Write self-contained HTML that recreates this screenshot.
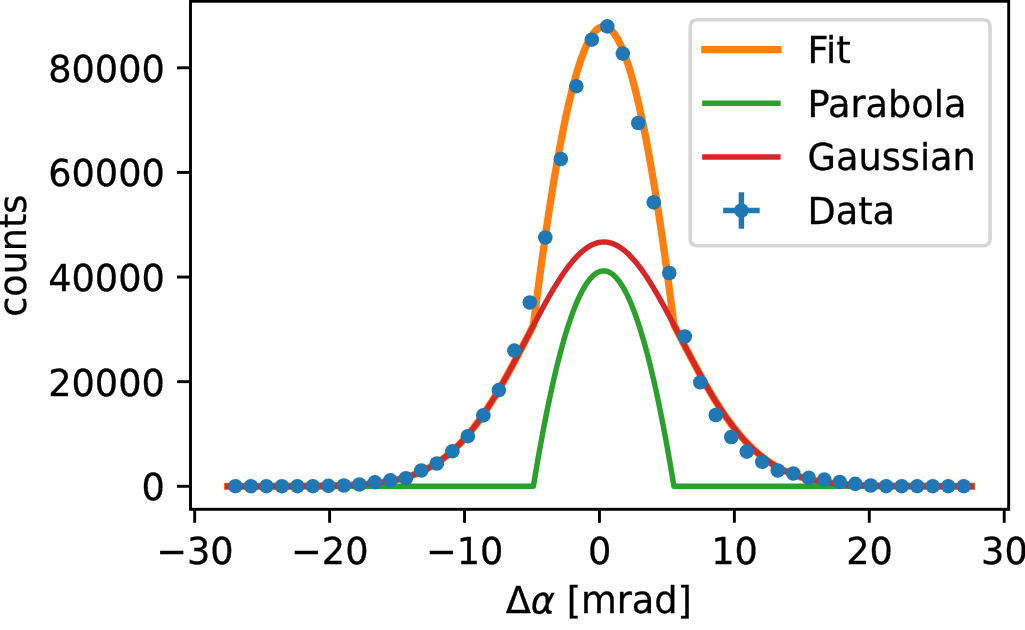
<!DOCTYPE html>
<html lang="en"><head><meta charset="utf-8"><title>Fit plot</title>
<style>html,body{margin:0;padding:0;background:#fff;overflow:hidden}svg{display:block}text{font-family:"DejaVu Sans","Liberation Sans",sans-serif;font-size:36.7px;fill:#000;stroke:#000;stroke-width:0.3px;stroke-linejoin:round}</style></head><body>
<svg width="1025" height="630" viewBox="0 0 1025 630">
<rect width="1025" height="630" fill="#fff"/>
<g fill="none" stroke-linecap="square" stroke-linejoin="round">
<path d="M227.60 486.30 L228.84 486.30 L230.08 486.30 L231.33 486.30 L232.57 486.30 L233.81 486.30 L235.05 486.30 L236.29 486.30 L237.54 486.30 L238.78 486.30 L240.02 486.30 L241.26 486.30 L242.50 486.30 L243.75 486.30 L244.99 486.30 L246.23 486.29 L247.47 486.29 L248.72 486.29 L249.96 486.29 L251.20 486.29 L252.44 486.29 L253.68 486.29 L254.93 486.29 L256.17 486.29 L257.41 486.29 L258.65 486.29 L259.89 486.29 L261.14 486.29 L262.38 486.29 L263.62 486.29 L264.86 486.28 L266.10 486.28 L267.35 486.28 L268.59 486.28 L269.83 486.28 L271.07 486.28 L272.31 486.28 L273.56 486.28 L274.80 486.27 L276.04 486.27 L277.28 486.27 L278.52 486.27 L279.77 486.27 L281.01 486.26 L282.25 486.26 L283.49 486.26 L284.74 486.25 L285.98 486.25 L287.22 486.25 L288.46 486.24 L289.70 486.24 L290.95 486.24 L292.19 486.23 L293.43 486.23 L294.67 486.22 L295.91 486.22 L297.16 486.21 L298.40 486.21 L299.64 486.20 L300.88 486.19 L302.12 486.19 L303.37 486.18 L304.61 486.17 L305.85 486.16 L307.09 486.15 L308.33 486.14 L309.58 486.14 L310.82 486.12 L312.06 486.11 L313.30 486.10 L314.54 486.09 L315.79 486.08 L317.03 486.06 L318.27 486.05 L319.51 486.03 L320.76 486.02 L322.00 486.00 L323.24 485.98 L324.48 485.96 L325.72 485.94 L326.97 485.92 L328.21 485.90 L329.45 485.87 L330.69 485.85 L331.93 485.82 L333.18 485.79 L334.42 485.76 L335.66 485.73 L336.90 485.70 L338.14 485.66 L339.39 485.63 L340.63 485.59 L341.87 485.55 L343.11 485.51 L344.35 485.46 L345.60 485.42 L346.84 485.37 L348.08 485.32 L349.32 485.26 L350.56 485.21 L351.81 485.15 L353.05 485.08 L354.29 485.02 L355.53 484.95 L356.78 484.88 L358.02 484.80 L359.26 484.72 L360.50 484.64 L361.74 484.55 L362.99 484.46 L364.23 484.37 L365.47 484.27 L366.71 484.17 L367.95 484.06 L369.20 483.94 L370.44 483.83 L371.68 483.70 L372.92 483.57 L374.16 483.44 L375.41 483.30 L376.65 483.15 L377.89 483.00 L379.13 482.84 L380.37 482.67 L381.62 482.50 L382.86 482.32 L384.10 482.13 L385.34 481.93 L386.58 481.73 L387.83 481.52 L389.07 481.30 L390.31 481.07 L391.55 480.83 L392.80 480.58 L394.04 480.32 L395.28 480.06 L396.52 479.78 L397.76 479.49 L399.01 479.19 L400.25 478.88 L401.49 478.56 L402.73 478.22 L403.97 477.88 L405.22 477.52 L406.46 477.15 L407.70 476.76 L408.94 476.36 L410.18 475.95 L411.43 475.52 L412.67 475.08 L413.91 474.62 L415.15 474.15 L416.39 473.66 L417.64 473.16 L418.88 472.64 L420.12 472.10 L421.36 471.55 L422.61 470.97 L423.85 470.38 L425.09 469.77 L426.33 469.14 L427.57 468.50 L428.82 467.83 L430.06 467.14 L431.30 466.43 L432.54 465.71 L433.78 464.96 L435.03 464.19 L436.27 463.39 L437.51 462.58 L438.75 461.74 L439.99 460.88 L441.24 459.99 L442.48 459.09 L443.72 458.16 L444.96 457.20 L446.20 456.22 L447.45 455.21 L448.69 454.18 L449.93 453.13 L451.17 452.04 L452.41 450.93 L453.66 449.80 L454.90 448.64 L456.14 447.45 L457.38 446.23 L458.63 444.99 L459.87 443.72 L461.11 442.42 L462.35 441.10 L463.59 439.75 L464.84 438.36 L466.08 436.95 L467.32 435.52 L468.56 434.05 L469.80 432.56 L471.05 431.03 L472.29 429.48 L473.53 427.90 L474.77 426.30 L476.01 424.66 L477.26 422.99 L478.50 421.30 L479.74 419.58 L480.98 417.83 L482.22 416.06 L483.47 414.26 L484.71 412.43 L485.95 410.57 L487.19 408.69 L488.43 406.78 L489.68 404.84 L490.92 402.88 L492.16 400.90 L493.40 398.89 L494.65 396.86 L495.89 394.80 L497.13 392.72 L498.37 390.62 L499.61 388.49 L500.86 386.35 L502.10 384.18 L503.34 382.00 L504.58 379.79 L505.82 377.57 L507.07 375.33 L508.31 373.07 L509.55 370.80 L510.79 368.51 L512.03 366.21 L513.28 363.89 L514.52 361.57 L515.76 359.23 L517.00 356.88 L518.24 354.52 L519.49 352.16 L520.73 349.78 L521.97 347.41 L523.21 345.02 L524.45 342.64 L525.70 340.25 L526.94 337.86 L528.18 335.47 L529.42 333.08 L530.67 330.69 L531.91 328.31 L533.15 325.93 L533.40 325.46 L534.39 317.53 L535.63 307.72 L536.88 298.06 L538.12 288.55 L539.36 279.18 L540.60 269.96 L541.84 260.89 L543.09 251.97 L544.33 243.20 L545.57 234.58 L546.81 226.12 L548.05 217.82 L549.30 209.68 L550.54 201.69 L551.78 193.87 L553.02 186.20 L554.26 178.71 L555.51 171.37 L556.75 164.20 L557.99 157.21 L559.23 150.37 L560.47 143.71 L561.72 137.23 L562.96 130.91 L564.20 124.77 L565.44 118.80 L566.69 113.02 L567.93 107.41 L569.17 101.98 L570.41 96.72 L571.65 91.66 L572.90 86.77 L574.14 82.07 L575.38 77.55 L576.62 73.22 L577.86 69.08 L579.11 65.12 L580.35 61.35 L581.59 57.77 L582.83 54.39 L584.07 51.19 L585.32 48.19 L586.56 45.38 L587.80 42.76 L589.04 40.34 L590.28 38.11 L591.53 36.08 L592.77 34.24 L594.01 32.60 L595.25 31.16 L596.49 29.91 L597.74 28.86 L598.98 28.01 L600.22 27.35 L601.46 26.90 L602.71 26.64 L603.95 26.58 L605.19 26.72 L606.43 27.06 L607.67 27.59 L608.92 28.33 L610.16 29.26 L611.40 30.39 L612.64 31.71 L613.88 33.24 L615.13 34.95 L616.37 36.87 L617.61 38.98 L618.85 41.29 L620.09 43.79 L621.34 46.49 L622.58 49.38 L623.82 52.46 L625.06 55.73 L626.30 59.20 L627.55 62.85 L628.79 66.70 L630.03 70.73 L631.27 74.95 L632.51 79.36 L633.76 83.95 L635.00 88.73 L636.24 93.69 L637.48 98.84 L638.73 104.16 L639.97 109.67 L641.21 115.35 L642.45 121.22 L643.69 127.26 L644.94 133.47 L646.18 139.86 L647.42 146.42 L648.66 153.15 L649.90 160.06 L651.15 167.13 L652.39 174.37 L653.63 181.77 L654.87 189.34 L656.11 197.08 L657.36 204.97 L658.60 213.03 L659.84 221.24 L661.08 229.62 L662.32 238.14 L663.57 246.83 L664.81 255.66 L666.05 264.65 L667.29 273.79 L668.53 283.08 L669.78 292.52 L671.02 302.10 L672.26 311.83 L673.50 321.70 L673.90 324.88 L674.75 326.50 L675.99 328.88 L677.23 331.26 L678.47 333.65 L679.71 336.03 L680.96 338.42 L682.20 340.81 L683.44 343.20 L684.68 345.59 L685.92 347.97 L687.17 350.35 L688.41 352.72 L689.65 355.08 L690.89 357.44 L692.13 359.78 L693.38 362.12 L694.62 364.44 L695.86 366.76 L697.10 369.06 L698.34 371.34 L699.59 373.61 L700.83 375.86 L702.07 378.10 L703.31 380.32 L704.55 382.52 L705.80 384.70 L707.04 386.86 L708.28 389.00 L709.52 391.12 L710.77 393.22 L712.01 395.29 L713.25 397.34 L714.49 399.37 L715.73 401.37 L716.98 403.35 L718.22 405.31 L719.46 407.23 L720.70 409.14 L721.94 411.01 L723.19 412.86 L724.43 414.69 L725.67 416.48 L726.91 418.25 L728.15 419.99 L729.40 421.71 L730.64 423.39 L731.88 425.05 L733.12 426.68 L734.36 428.28 L735.61 429.85 L736.85 431.40 L738.09 432.91 L739.33 434.40 L740.57 435.86 L741.82 437.29 L743.06 438.69 L744.30 440.07 L745.54 441.42 L746.79 442.73 L748.03 444.03 L749.27 445.29 L750.51 446.53 L751.75 447.73 L753.00 448.92 L754.24 450.07 L755.48 451.20 L756.72 452.30 L757.96 453.38 L759.21 454.43 L760.45 455.45 L761.69 456.45 L762.93 457.43 L764.17 458.38 L765.42 459.30 L766.66 460.21 L767.90 461.08 L769.14 461.94 L770.38 462.77 L771.63 463.58 L772.87 464.37 L774.11 465.14 L775.35 465.88 L776.59 466.60 L777.84 467.31 L779.08 467.99 L780.32 468.65 L781.56 469.29 L782.81 469.92 L784.05 470.52 L785.29 471.11 L786.53 471.68 L787.77 472.23 L789.02 472.76 L790.26 473.28 L791.50 473.78 L792.74 474.26 L793.98 474.73 L795.23 475.19 L796.47 475.62 L797.71 476.05 L798.95 476.46 L800.19 476.85 L801.44 477.24 L802.68 477.60 L803.92 477.96 L805.16 478.30 L806.40 478.63 L807.65 478.95 L808.89 479.26 L810.13 479.56 L811.37 479.85 L812.62 480.12 L813.86 480.39 L815.10 480.64 L816.34 480.89 L817.58 481.12 L818.83 481.35 L820.07 481.57 L821.31 481.78 L822.55 481.98 L823.79 482.18 L825.04 482.36 L826.28 482.54 L827.52 482.71 L828.76 482.88 L830.00 483.03 L831.25 483.19 L832.49 483.33 L833.73 483.47 L834.97 483.60 L836.21 483.73 L837.46 483.85 L838.70 483.97 L839.94 484.08 L841.18 484.19 L842.42 484.29 L843.67 484.39 L844.91 484.49 L846.15 484.57 L847.39 484.66 L848.64 484.74 L849.88 484.82 L851.12 484.89 L852.36 484.97 L853.60 485.03 L854.85 485.10 L856.09 485.16 L857.33 485.22 L858.57 485.28 L859.81 485.33 L861.06 485.38 L862.30 485.43 L863.54 485.47 L864.78 485.52 L866.02 485.56 L867.27 485.60 L868.51 485.64 L869.75 485.67 L870.99 485.71 L872.23 485.74 L873.48 485.77 L874.72 485.80 L875.96 485.83 L877.20 485.85 L878.44 485.88 L879.69 485.90 L880.93 485.92 L882.17 485.95 L883.41 485.97 L884.66 485.98 L885.90 486.00 L887.14 486.02 L888.38 486.04 L889.62 486.05 L890.87 486.07 L892.11 486.08 L893.35 486.09 L894.59 486.10 L895.83 486.12 L897.08 486.13 L898.32 486.14 L899.56 486.15 L900.80 486.16 L902.04 486.17 L903.29 486.17 L904.53 486.18 L905.77 486.19 L907.01 486.20 L908.25 486.20 L909.50 486.21 L910.74 486.21 L911.98 486.22 L913.22 486.22 L914.46 486.23 L915.71 486.23 L916.95 486.24 L918.19 486.24 L919.43 486.25 L920.68 486.25 L921.92 486.25 L923.16 486.26 L924.40 486.26 L925.64 486.26 L926.89 486.26 L928.13 486.27 L929.37 486.27 L930.61 486.27 L931.85 486.27 L933.10 486.27 L934.34 486.28 L935.58 486.28 L936.82 486.28 L938.06 486.28 L939.31 486.28 L940.55 486.28 L941.79 486.28 L943.03 486.29 L944.27 486.29 L945.52 486.29 L946.76 486.29 L948.00 486.29 L949.24 486.29 L950.48 486.29 L951.73 486.29 L952.97 486.29 L954.21 486.29 L955.45 486.29 L956.70 486.29 L957.94 486.29 L959.18 486.29 L960.42 486.29 L961.66 486.30 L962.91 486.30 L964.15 486.30 L965.39 486.30 L966.63 486.30 L967.87 486.30 L969.12 486.30 L970.36 486.30 L971.60 486.30" stroke="#ff7f0e" stroke-width="7.30"/>
<path d="M227.60 486.30 L228.84 486.30 L230.08 486.30 L231.33 486.30 L232.57 486.30 L233.81 486.30 L235.05 486.30 L236.29 486.30 L237.54 486.30 L238.78 486.30 L240.02 486.30 L241.26 486.30 L242.50 486.30 L243.75 486.30 L244.99 486.30 L246.23 486.30 L247.47 486.30 L248.72 486.30 L249.96 486.30 L251.20 486.30 L252.44 486.30 L253.68 486.30 L254.93 486.30 L256.17 486.30 L257.41 486.30 L258.65 486.30 L259.89 486.30 L261.14 486.30 L262.38 486.30 L263.62 486.30 L264.86 486.30 L266.10 486.30 L267.35 486.30 L268.59 486.30 L269.83 486.30 L271.07 486.30 L272.31 486.30 L273.56 486.30 L274.80 486.30 L276.04 486.30 L277.28 486.30 L278.52 486.30 L279.77 486.30 L281.01 486.30 L282.25 486.30 L283.49 486.30 L284.74 486.30 L285.98 486.30 L287.22 486.30 L288.46 486.30 L289.70 486.30 L290.95 486.30 L292.19 486.30 L293.43 486.30 L294.67 486.30 L295.91 486.30 L297.16 486.30 L298.40 486.30 L299.64 486.30 L300.88 486.30 L302.12 486.30 L303.37 486.30 L304.61 486.30 L305.85 486.30 L307.09 486.30 L308.33 486.30 L309.58 486.30 L310.82 486.30 L312.06 486.30 L313.30 486.30 L314.54 486.30 L315.79 486.30 L317.03 486.30 L318.27 486.30 L319.51 486.30 L320.76 486.30 L322.00 486.30 L323.24 486.30 L324.48 486.30 L325.72 486.30 L326.97 486.30 L328.21 486.30 L329.45 486.30 L330.69 486.30 L331.93 486.30 L333.18 486.30 L334.42 486.30 L335.66 486.30 L336.90 486.30 L338.14 486.30 L339.39 486.30 L340.63 486.30 L341.87 486.30 L343.11 486.30 L344.35 486.30 L345.60 486.30 L346.84 486.30 L348.08 486.30 L349.32 486.30 L350.56 486.30 L351.81 486.30 L353.05 486.30 L354.29 486.30 L355.53 486.30 L356.78 486.30 L358.02 486.30 L359.26 486.30 L360.50 486.30 L361.74 486.30 L362.99 486.30 L364.23 486.30 L365.47 486.30 L366.71 486.30 L367.95 486.30 L369.20 486.30 L370.44 486.30 L371.68 486.30 L372.92 486.30 L374.16 486.30 L375.41 486.30 L376.65 486.30 L377.89 486.30 L379.13 486.30 L380.37 486.30 L381.62 486.30 L382.86 486.30 L384.10 486.30 L385.34 486.30 L386.58 486.30 L387.83 486.30 L389.07 486.30 L390.31 486.30 L391.55 486.30 L392.80 486.30 L394.04 486.30 L395.28 486.30 L396.52 486.30 L397.76 486.30 L399.01 486.30 L400.25 486.30 L401.49 486.30 L402.73 486.30 L403.97 486.30 L405.22 486.30 L406.46 486.30 L407.70 486.30 L408.94 486.30 L410.18 486.30 L411.43 486.30 L412.67 486.30 L413.91 486.30 L415.15 486.30 L416.39 486.30 L417.64 486.30 L418.88 486.30 L420.12 486.30 L421.36 486.30 L422.61 486.30 L423.85 486.30 L425.09 486.30 L426.33 486.30 L427.57 486.30 L428.82 486.30 L430.06 486.30 L431.30 486.30 L432.54 486.30 L433.78 486.30 L435.03 486.30 L436.27 486.30 L437.51 486.30 L438.75 486.30 L439.99 486.30 L441.24 486.30 L442.48 486.30 L443.72 486.30 L444.96 486.30 L446.20 486.30 L447.45 486.30 L448.69 486.30 L449.93 486.30 L451.17 486.30 L452.41 486.30 L453.66 486.30 L454.90 486.30 L456.14 486.30 L457.38 486.30 L458.63 486.30 L459.87 486.30 L461.11 486.30 L462.35 486.30 L463.59 486.30 L464.84 486.30 L466.08 486.30 L467.32 486.30 L468.56 486.30 L469.80 486.30 L471.05 486.30 L472.29 486.30 L473.53 486.30 L474.77 486.30 L476.01 486.30 L477.26 486.30 L478.50 486.30 L479.74 486.30 L480.98 486.30 L482.22 486.30 L483.47 486.30 L484.71 486.30 L485.95 486.30 L487.19 486.30 L488.43 486.30 L489.68 486.30 L490.92 486.30 L492.16 486.30 L493.40 486.30 L494.65 486.30 L495.89 486.30 L497.13 486.30 L498.37 486.30 L499.61 486.30 L500.86 486.30 L502.10 486.30 L503.34 486.30 L504.58 486.30 L505.82 486.30 L507.07 486.30 L508.31 486.30 L509.55 486.30 L510.79 486.30 L512.03 486.30 L513.28 486.30 L514.52 486.30 L515.76 486.30 L517.00 486.30 L518.24 486.30 L519.49 486.30 L520.73 486.30 L521.97 486.30 L523.21 486.30 L524.45 486.30 L525.70 486.30 L526.94 486.30 L528.18 486.30 L529.42 486.30 L530.67 486.30 L531.91 486.30 L533.15 486.30 L533.40 486.30 L534.39 480.26 L535.63 472.82 L536.88 465.51 L538.12 458.34 L539.36 451.30 L540.60 444.40 L541.84 437.63 L543.09 430.99 L544.33 424.49 L545.57 418.13 L546.81 411.90 L548.05 405.80 L549.30 399.84 L550.54 394.01 L551.78 388.32 L553.02 382.76 L554.26 377.34 L555.51 372.05 L556.75 366.90 L557.99 361.88 L559.23 357.00 L560.47 352.25 L561.72 347.63 L562.96 343.15 L564.20 338.81 L565.44 334.60 L566.69 330.52 L567.93 326.58 L569.17 322.78 L570.41 319.10 L571.65 315.57 L572.90 312.16 L574.14 308.90 L575.38 305.76 L576.62 302.77 L577.86 299.90 L579.11 297.17 L580.35 294.58 L581.59 292.12 L582.83 289.80 L584.07 287.61 L585.32 285.55 L586.56 283.63 L587.80 281.84 L589.04 280.19 L590.28 278.67 L591.53 277.29 L592.77 276.05 L594.01 274.93 L595.25 273.96 L596.49 273.11 L597.74 272.40 L598.98 271.83 L600.22 271.39 L601.46 271.09 L602.71 270.92 L603.95 270.88 L605.19 270.98 L606.43 271.21 L607.67 271.58 L608.92 272.09 L610.16 272.73 L611.40 273.50 L612.64 274.41 L613.88 275.45 L615.13 276.63 L616.37 277.94 L617.61 279.38 L618.85 280.97 L620.09 282.68 L621.34 284.53 L622.58 286.52 L623.82 288.64 L625.06 290.89 L626.30 293.28 L627.55 295.80 L628.79 298.46 L630.03 301.26 L631.27 304.18 L632.51 307.25 L633.76 310.44 L635.00 313.78 L636.24 317.24 L637.48 320.84 L638.73 324.58 L639.97 328.45 L641.21 332.46 L642.45 336.60 L643.69 340.87 L644.94 345.28 L646.18 349.83 L647.42 354.50 L648.66 359.32 L649.90 364.27 L651.15 369.35 L652.39 374.57 L653.63 379.92 L654.87 385.41 L656.11 391.03 L657.36 396.78 L658.60 402.67 L659.84 408.70 L661.08 414.86 L662.32 421.16 L663.57 427.59 L664.81 434.15 L666.05 440.85 L667.29 447.68 L668.53 454.65 L669.78 461.76 L671.02 468.99 L672.26 476.37 L673.50 483.87 L673.90 486.30 L674.75 486.30 L675.99 486.30 L677.23 486.30 L678.47 486.30 L679.71 486.30 L680.96 486.30 L682.20 486.30 L683.44 486.30 L684.68 486.30 L685.92 486.30 L687.17 486.30 L688.41 486.30 L689.65 486.30 L690.89 486.30 L692.13 486.30 L693.38 486.30 L694.62 486.30 L695.86 486.30 L697.10 486.30 L698.34 486.30 L699.59 486.30 L700.83 486.30 L702.07 486.30 L703.31 486.30 L704.55 486.30 L705.80 486.30 L707.04 486.30 L708.28 486.30 L709.52 486.30 L710.77 486.30 L712.01 486.30 L713.25 486.30 L714.49 486.30 L715.73 486.30 L716.98 486.30 L718.22 486.30 L719.46 486.30 L720.70 486.30 L721.94 486.30 L723.19 486.30 L724.43 486.30 L725.67 486.30 L726.91 486.30 L728.15 486.30 L729.40 486.30 L730.64 486.30 L731.88 486.30 L733.12 486.30 L734.36 486.30 L735.61 486.30 L736.85 486.30 L738.09 486.30 L739.33 486.30 L740.57 486.30 L741.82 486.30 L743.06 486.30 L744.30 486.30 L745.54 486.30 L746.79 486.30 L748.03 486.30 L749.27 486.30 L750.51 486.30 L751.75 486.30 L753.00 486.30 L754.24 486.30 L755.48 486.30 L756.72 486.30 L757.96 486.30 L759.21 486.30 L760.45 486.30 L761.69 486.30 L762.93 486.30 L764.17 486.30 L765.42 486.30 L766.66 486.30 L767.90 486.30 L769.14 486.30 L770.38 486.30 L771.63 486.30 L772.87 486.30 L774.11 486.30 L775.35 486.30 L776.59 486.30 L777.84 486.30 L779.08 486.30 L780.32 486.30 L781.56 486.30 L782.81 486.30 L784.05 486.30 L785.29 486.30 L786.53 486.30 L787.77 486.30 L789.02 486.30 L790.26 486.30 L791.50 486.30 L792.74 486.30 L793.98 486.30 L795.23 486.30 L796.47 486.30 L797.71 486.30 L798.95 486.30 L800.19 486.30 L801.44 486.30 L802.68 486.30 L803.92 486.30 L805.16 486.30 L806.40 486.30 L807.65 486.30 L808.89 486.30 L810.13 486.30 L811.37 486.30 L812.62 486.30 L813.86 486.30 L815.10 486.30 L816.34 486.30 L817.58 486.30 L818.83 486.30 L820.07 486.30 L821.31 486.30 L822.55 486.30 L823.79 486.30 L825.04 486.30 L826.28 486.30 L827.52 486.30 L828.76 486.30 L830.00 486.30 L831.25 486.30 L832.49 486.30 L833.73 486.30 L834.97 486.30 L836.21 486.30 L837.46 486.30 L838.70 486.30 L839.94 486.30 L841.18 486.30 L842.42 486.30 L843.67 486.30 L844.91 486.30 L846.15 486.30 L847.39 486.30 L848.64 486.30 L849.88 486.30 L851.12 486.30 L852.36 486.30 L853.60 486.30 L854.85 486.30 L856.09 486.30 L857.33 486.30 L858.57 486.30 L859.81 486.30 L861.06 486.30 L862.30 486.30 L863.54 486.30 L864.78 486.30 L866.02 486.30 L867.27 486.30 L868.51 486.30 L869.75 486.30 L870.99 486.30 L872.23 486.30 L873.48 486.30 L874.72 486.30 L875.96 486.30 L877.20 486.30 L878.44 486.30 L879.69 486.30 L880.93 486.30 L882.17 486.30 L883.41 486.30 L884.66 486.30 L885.90 486.30 L887.14 486.30 L888.38 486.30 L889.62 486.30 L890.87 486.30 L892.11 486.30 L893.35 486.30 L894.59 486.30 L895.83 486.30 L897.08 486.30 L898.32 486.30 L899.56 486.30 L900.80 486.30 L902.04 486.30 L903.29 486.30 L904.53 486.30 L905.77 486.30 L907.01 486.30 L908.25 486.30 L909.50 486.30 L910.74 486.30 L911.98 486.30 L913.22 486.30 L914.46 486.30 L915.71 486.30 L916.95 486.30 L918.19 486.30 L919.43 486.30 L920.68 486.30 L921.92 486.30 L923.16 486.30 L924.40 486.30 L925.64 486.30 L926.89 486.30 L928.13 486.30 L929.37 486.30 L930.61 486.30 L931.85 486.30 L933.10 486.30 L934.34 486.30 L935.58 486.30 L936.82 486.30 L938.06 486.30 L939.31 486.30 L940.55 486.30 L941.79 486.30 L943.03 486.30 L944.27 486.30 L945.52 486.30 L946.76 486.30 L948.00 486.30 L949.24 486.30 L950.48 486.30 L951.73 486.30 L952.97 486.30 L954.21 486.30 L955.45 486.30 L956.70 486.30 L957.94 486.30 L959.18 486.30 L960.42 486.30 L961.66 486.30 L962.91 486.30 L964.15 486.30 L965.39 486.30 L966.63 486.30 L967.87 486.30 L969.12 486.30 L970.36 486.30 L971.60 486.30" stroke="#2ca02c" stroke-width="5.47"/>
<path d="M227.60 486.30 L228.84 486.30 L230.08 486.30 L231.33 486.30 L232.57 486.30 L233.81 486.30 L235.05 486.30 L236.29 486.30 L237.54 486.30 L238.78 486.30 L240.02 486.30 L241.26 486.30 L242.50 486.30 L243.75 486.30 L244.99 486.30 L246.23 486.29 L247.47 486.29 L248.72 486.29 L249.96 486.29 L251.20 486.29 L252.44 486.29 L253.68 486.29 L254.93 486.29 L256.17 486.29 L257.41 486.29 L258.65 486.29 L259.89 486.29 L261.14 486.29 L262.38 486.29 L263.62 486.29 L264.86 486.28 L266.10 486.28 L267.35 486.28 L268.59 486.28 L269.83 486.28 L271.07 486.28 L272.31 486.28 L273.56 486.28 L274.80 486.27 L276.04 486.27 L277.28 486.27 L278.52 486.27 L279.77 486.27 L281.01 486.26 L282.25 486.26 L283.49 486.26 L284.74 486.25 L285.98 486.25 L287.22 486.25 L288.46 486.24 L289.70 486.24 L290.95 486.24 L292.19 486.23 L293.43 486.23 L294.67 486.22 L295.91 486.22 L297.16 486.21 L298.40 486.21 L299.64 486.20 L300.88 486.19 L302.12 486.19 L303.37 486.18 L304.61 486.17 L305.85 486.16 L307.09 486.15 L308.33 486.14 L309.58 486.14 L310.82 486.12 L312.06 486.11 L313.30 486.10 L314.54 486.09 L315.79 486.08 L317.03 486.06 L318.27 486.05 L319.51 486.03 L320.76 486.02 L322.00 486.00 L323.24 485.98 L324.48 485.96 L325.72 485.94 L326.97 485.92 L328.21 485.90 L329.45 485.87 L330.69 485.85 L331.93 485.82 L333.18 485.79 L334.42 485.76 L335.66 485.73 L336.90 485.70 L338.14 485.66 L339.39 485.63 L340.63 485.59 L341.87 485.55 L343.11 485.51 L344.35 485.46 L345.60 485.42 L346.84 485.37 L348.08 485.32 L349.32 485.26 L350.56 485.21 L351.81 485.15 L353.05 485.08 L354.29 485.02 L355.53 484.95 L356.78 484.88 L358.02 484.80 L359.26 484.72 L360.50 484.64 L361.74 484.55 L362.99 484.46 L364.23 484.37 L365.47 484.27 L366.71 484.17 L367.95 484.06 L369.20 483.94 L370.44 483.83 L371.68 483.70 L372.92 483.57 L374.16 483.44 L375.41 483.30 L376.65 483.15 L377.89 483.00 L379.13 482.84 L380.37 482.67 L381.62 482.50 L382.86 482.32 L384.10 482.13 L385.34 481.93 L386.58 481.73 L387.83 481.52 L389.07 481.30 L390.31 481.07 L391.55 480.83 L392.80 480.58 L394.04 480.32 L395.28 480.06 L396.52 479.78 L397.76 479.49 L399.01 479.19 L400.25 478.88 L401.49 478.56 L402.73 478.22 L403.97 477.88 L405.22 477.52 L406.46 477.15 L407.70 476.76 L408.94 476.36 L410.18 475.95 L411.43 475.52 L412.67 475.08 L413.91 474.62 L415.15 474.15 L416.39 473.66 L417.64 473.16 L418.88 472.64 L420.12 472.10 L421.36 471.55 L422.61 470.97 L423.85 470.38 L425.09 469.77 L426.33 469.14 L427.57 468.50 L428.82 467.83 L430.06 467.14 L431.30 466.43 L432.54 465.71 L433.78 464.96 L435.03 464.19 L436.27 463.39 L437.51 462.58 L438.75 461.74 L439.99 460.88 L441.24 459.99 L442.48 459.09 L443.72 458.16 L444.96 457.20 L446.20 456.22 L447.45 455.21 L448.69 454.18 L449.93 453.13 L451.17 452.04 L452.41 450.93 L453.66 449.80 L454.90 448.64 L456.14 447.45 L457.38 446.23 L458.63 444.99 L459.87 443.72 L461.11 442.42 L462.35 441.10 L463.59 439.75 L464.84 438.36 L466.08 436.95 L467.32 435.52 L468.56 434.05 L469.80 432.56 L471.05 431.03 L472.29 429.48 L473.53 427.90 L474.77 426.30 L476.01 424.66 L477.26 422.99 L478.50 421.30 L479.74 419.58 L480.98 417.83 L482.22 416.06 L483.47 414.26 L484.71 412.43 L485.95 410.57 L487.19 408.69 L488.43 406.78 L489.68 404.84 L490.92 402.88 L492.16 400.90 L493.40 398.89 L494.65 396.86 L495.89 394.80 L497.13 392.72 L498.37 390.62 L499.61 388.49 L500.86 386.35 L502.10 384.18 L503.34 382.00 L504.58 379.79 L505.82 377.57 L507.07 375.33 L508.31 373.07 L509.55 370.80 L510.79 368.51 L512.03 366.21 L513.28 363.89 L514.52 361.57 L515.76 359.23 L517.00 356.88 L518.24 354.52 L519.49 352.16 L520.73 349.78 L521.97 347.41 L523.21 345.02 L524.45 342.64 L525.70 340.25 L526.94 337.86 L528.18 335.47 L529.42 333.08 L530.67 330.69 L531.91 328.31 L533.15 325.93 L533.40 325.46 L534.39 323.56 L535.63 321.20 L536.88 318.85 L538.12 316.51 L539.36 314.18 L540.60 311.86 L541.84 309.56 L543.09 307.27 L544.33 305.01 L545.57 302.76 L546.81 300.53 L548.05 298.32 L549.30 296.14 L550.54 293.98 L551.78 291.85 L553.02 289.74 L554.26 287.67 L555.51 285.62 L556.75 283.61 L557.99 281.62 L559.23 279.68 L560.47 277.77 L561.72 275.89 L562.96 274.06 L564.20 272.26 L565.44 270.51 L566.69 268.79 L567.93 267.12 L569.17 265.50 L570.41 263.92 L571.65 262.39 L572.90 260.91 L574.14 259.47 L575.38 258.09 L576.62 256.75 L577.86 255.47 L579.11 254.25 L580.35 253.07 L581.59 251.95 L582.83 250.89 L584.07 249.89 L585.32 248.94 L586.56 248.05 L587.80 247.22 L589.04 246.45 L590.28 245.74 L591.53 245.08 L592.77 244.49 L594.01 243.97 L595.25 243.50 L596.49 243.10 L597.74 242.76 L598.98 242.48 L600.22 242.26 L601.46 242.11 L602.71 242.03 L603.95 242.00 L605.19 242.04 L606.43 242.14 L607.67 242.31 L608.92 242.54 L610.16 242.83 L611.40 243.19 L612.64 243.61 L613.88 244.09 L615.13 244.63 L616.37 245.23 L617.61 245.90 L618.85 246.62 L620.09 247.41 L621.34 248.25 L622.58 249.16 L623.82 250.12 L625.06 251.14 L626.30 252.21 L627.55 253.35 L628.79 254.53 L630.03 255.77 L631.27 257.07 L632.51 258.41 L633.76 259.81 L635.00 261.25 L636.24 262.75 L637.48 264.29 L638.73 265.88 L639.97 267.52 L641.21 269.20 L642.45 270.92 L643.69 272.68 L644.94 274.49 L646.18 276.33 L647.42 278.22 L648.66 280.14 L649.90 282.09 L651.15 284.08 L652.39 286.10 L653.63 288.16 L654.87 290.24 L656.11 292.35 L657.36 294.49 L658.60 296.65 L659.84 298.84 L661.08 301.05 L662.32 303.29 L663.57 305.54 L664.81 307.81 L666.05 310.10 L667.29 312.41 L668.53 314.73 L669.78 317.06 L671.02 319.41 L672.26 321.76 L673.50 324.13 L673.90 324.88 L674.75 326.50 L675.99 328.88 L677.23 331.26 L678.47 333.65 L679.71 336.03 L680.96 338.42 L682.20 340.81 L683.44 343.20 L684.68 345.59 L685.92 347.97 L687.17 350.35 L688.41 352.72 L689.65 355.08 L690.89 357.44 L692.13 359.78 L693.38 362.12 L694.62 364.44 L695.86 366.76 L697.10 369.06 L698.34 371.34 L699.59 373.61 L700.83 375.86 L702.07 378.10 L703.31 380.32 L704.55 382.52 L705.80 384.70 L707.04 386.86 L708.28 389.00 L709.52 391.12 L710.77 393.22 L712.01 395.29 L713.25 397.34 L714.49 399.37 L715.73 401.37 L716.98 403.35 L718.22 405.31 L719.46 407.23 L720.70 409.14 L721.94 411.01 L723.19 412.86 L724.43 414.69 L725.67 416.48 L726.91 418.25 L728.15 419.99 L729.40 421.71 L730.64 423.39 L731.88 425.05 L733.12 426.68 L734.36 428.28 L735.61 429.85 L736.85 431.40 L738.09 432.91 L739.33 434.40 L740.57 435.86 L741.82 437.29 L743.06 438.69 L744.30 440.07 L745.54 441.42 L746.79 442.73 L748.03 444.03 L749.27 445.29 L750.51 446.53 L751.75 447.73 L753.00 448.92 L754.24 450.07 L755.48 451.20 L756.72 452.30 L757.96 453.38 L759.21 454.43 L760.45 455.45 L761.69 456.45 L762.93 457.43 L764.17 458.38 L765.42 459.30 L766.66 460.21 L767.90 461.08 L769.14 461.94 L770.38 462.77 L771.63 463.58 L772.87 464.37 L774.11 465.14 L775.35 465.88 L776.59 466.60 L777.84 467.31 L779.08 467.99 L780.32 468.65 L781.56 469.29 L782.81 469.92 L784.05 470.52 L785.29 471.11 L786.53 471.68 L787.77 472.23 L789.02 472.76 L790.26 473.28 L791.50 473.78 L792.74 474.26 L793.98 474.73 L795.23 475.19 L796.47 475.62 L797.71 476.05 L798.95 476.46 L800.19 476.85 L801.44 477.24 L802.68 477.60 L803.92 477.96 L805.16 478.30 L806.40 478.63 L807.65 478.95 L808.89 479.26 L810.13 479.56 L811.37 479.85 L812.62 480.12 L813.86 480.39 L815.10 480.64 L816.34 480.89 L817.58 481.12 L818.83 481.35 L820.07 481.57 L821.31 481.78 L822.55 481.98 L823.79 482.18 L825.04 482.36 L826.28 482.54 L827.52 482.71 L828.76 482.88 L830.00 483.03 L831.25 483.19 L832.49 483.33 L833.73 483.47 L834.97 483.60 L836.21 483.73 L837.46 483.85 L838.70 483.97 L839.94 484.08 L841.18 484.19 L842.42 484.29 L843.67 484.39 L844.91 484.49 L846.15 484.57 L847.39 484.66 L848.64 484.74 L849.88 484.82 L851.12 484.89 L852.36 484.97 L853.60 485.03 L854.85 485.10 L856.09 485.16 L857.33 485.22 L858.57 485.28 L859.81 485.33 L861.06 485.38 L862.30 485.43 L863.54 485.47 L864.78 485.52 L866.02 485.56 L867.27 485.60 L868.51 485.64 L869.75 485.67 L870.99 485.71 L872.23 485.74 L873.48 485.77 L874.72 485.80 L875.96 485.83 L877.20 485.85 L878.44 485.88 L879.69 485.90 L880.93 485.92 L882.17 485.95 L883.41 485.97 L884.66 485.98 L885.90 486.00 L887.14 486.02 L888.38 486.04 L889.62 486.05 L890.87 486.07 L892.11 486.08 L893.35 486.09 L894.59 486.10 L895.83 486.12 L897.08 486.13 L898.32 486.14 L899.56 486.15 L900.80 486.16 L902.04 486.17 L903.29 486.17 L904.53 486.18 L905.77 486.19 L907.01 486.20 L908.25 486.20 L909.50 486.21 L910.74 486.21 L911.98 486.22 L913.22 486.22 L914.46 486.23 L915.71 486.23 L916.95 486.24 L918.19 486.24 L919.43 486.25 L920.68 486.25 L921.92 486.25 L923.16 486.26 L924.40 486.26 L925.64 486.26 L926.89 486.26 L928.13 486.27 L929.37 486.27 L930.61 486.27 L931.85 486.27 L933.10 486.27 L934.34 486.28 L935.58 486.28 L936.82 486.28 L938.06 486.28 L939.31 486.28 L940.55 486.28 L941.79 486.28 L943.03 486.29 L944.27 486.29 L945.52 486.29 L946.76 486.29 L948.00 486.29 L949.24 486.29 L950.48 486.29 L951.73 486.29 L952.97 486.29 L954.21 486.29 L955.45 486.29 L956.70 486.29 L957.94 486.29 L959.18 486.29 L960.42 486.29 L961.66 486.30 L962.91 486.30 L964.15 486.30 L965.39 486.30 L966.63 486.30 L967.87 486.30 L969.12 486.30 L970.36 486.30 L971.60 486.30" stroke="#d62728" stroke-width="5.47"/>
</g>
<g fill="#1f77b4">
<circle cx="235.40" cy="486.20" r="7.30"/>
<circle cx="250.90" cy="486.20" r="7.30"/>
<circle cx="266.39" cy="486.20" r="7.30"/>
<circle cx="281.89" cy="486.20" r="7.30"/>
<circle cx="297.38" cy="486.20" r="7.30"/>
<circle cx="312.88" cy="486.20" r="7.30"/>
<circle cx="328.38" cy="485.90" r="7.30"/>
<circle cx="343.87" cy="485.50" r="7.30"/>
<circle cx="359.37" cy="484.50" r="7.30"/>
<circle cx="374.86" cy="482.30" r="7.30"/>
<circle cx="390.36" cy="480.40" r="7.30"/>
<circle cx="405.86" cy="478.20" r="7.30"/>
<circle cx="421.35" cy="470.50" r="7.30"/>
<circle cx="436.85" cy="463.50" r="7.30"/>
<circle cx="452.34" cy="451.30" r="7.30"/>
<circle cx="467.84" cy="436.20" r="7.30"/>
<circle cx="483.34" cy="415.40" r="7.30"/>
<circle cx="498.83" cy="390.10" r="7.30"/>
<circle cx="514.33" cy="350.60" r="7.30"/>
<circle cx="529.82" cy="302.50" r="7.30"/>
<circle cx="545.32" cy="237.50" r="7.30"/>
<circle cx="560.82" cy="159.00" r="7.30"/>
<circle cx="576.31" cy="86.20" r="7.30"/>
<circle cx="591.81" cy="39.70" r="7.30"/>
<circle cx="607.30" cy="26.40" r="7.30"/>
<circle cx="622.80" cy="53.60" r="7.30"/>
<circle cx="638.30" cy="123.00" r="7.30"/>
<circle cx="653.79" cy="202.40" r="7.30"/>
<circle cx="669.29" cy="273.00" r="7.30"/>
<circle cx="684.78" cy="336.50" r="7.30"/>
<circle cx="700.28" cy="382.30" r="7.30"/>
<circle cx="715.78" cy="415.00" r="7.30"/>
<circle cx="731.27" cy="437.00" r="7.30"/>
<circle cx="746.77" cy="451.60" r="7.30"/>
<circle cx="762.26" cy="461.80" r="7.30"/>
<circle cx="777.76" cy="470.50" r="7.30"/>
<circle cx="793.26" cy="473.50" r="7.30"/>
<circle cx="808.75" cy="477.90" r="7.30"/>
<circle cx="824.25" cy="479.60" r="7.30"/>
<circle cx="839.74" cy="482.00" r="7.30"/>
<circle cx="855.24" cy="483.90" r="7.30"/>
<circle cx="870.74" cy="485.50" r="7.30"/>
<circle cx="886.23" cy="486.20" r="7.30"/>
<circle cx="901.73" cy="486.20" r="7.30"/>
<circle cx="917.22" cy="486.20" r="7.30"/>
<circle cx="932.72" cy="486.20" r="7.30"/>
<circle cx="948.22" cy="486.20" r="7.30"/>
<circle cx="963.71" cy="486.20" r="7.30"/>
</g>
<rect x="190.50" y="1.25" width="818.20" height="508.05" fill="none" stroke="#000" stroke-width="2.92"/>
<g stroke="#000" stroke-width="2.92">
<line x1="194.69" y1="509.30" x2="194.69" y2="522.76"/>
<line x1="329.61" y1="509.30" x2="329.61" y2="522.76"/>
<line x1="464.53" y1="509.30" x2="464.53" y2="522.76"/>
<line x1="599.45" y1="509.30" x2="599.45" y2="522.76"/>
<line x1="734.37" y1="509.30" x2="734.37" y2="522.76"/>
<line x1="869.29" y1="509.30" x2="869.29" y2="522.76"/>
<line x1="1004.21" y1="509.30" x2="1004.21" y2="522.76"/>
<line x1="177.04" y1="486.30" x2="190.50" y2="486.30"/>
<line x1="177.04" y1="381.68" x2="190.50" y2="381.68"/>
<line x1="177.04" y1="277.05" x2="190.50" y2="277.05"/>
<line x1="177.04" y1="172.43" x2="190.50" y2="172.43"/>
<line x1="177.04" y1="67.80" x2="190.50" y2="67.80"/>
</g>
<g text-anchor="middle">
<text x="194.89" y="563.8">−30</text>
<text x="329.81" y="563.8">−20</text>
<text x="464.73" y="563.8">−10</text>
<text x="599.65" y="563.8">0</text>
<text x="734.57" y="563.8">10</text>
<text x="869.49" y="563.8">20</text>
<text x="1004.41" y="563.8">30</text>
</g><g text-anchor="end">
<text x="164.9" y="500.30">0</text>
<text x="164.9" y="395.68">20000</text>
<text x="164.9" y="291.05">40000</text>
<text x="164.9" y="186.43">60000</text>
<text x="164.9" y="81.80">80000</text>
</g>
<text x="598.8" y="613.2" text-anchor="middle">Δ<tspan font-style="italic">α</tspan> [mrad]</text>
<text transform="translate(25.7 255.75) rotate(-90) scale(0.996 1)" text-anchor="middle">counts</text>
<path d="M697.50 19.70 L982.80 19.70 Q990.10 19.70 990.10 27.00 L990.10 238.40 Q990.10 245.70 982.80 245.70 L697.50 245.70 Q690.20 245.70 690.20 238.40 L690.20 27.00 Q690.20 19.70 697.50 19.70 Z" fill="#fff" fill-opacity="0.8" stroke="#cccccc" stroke-opacity="0.8" stroke-width="3.65"/>
<g fill="none" stroke-linecap="square">
<line x1="704.90" y1="49.60" x2="777.90" y2="49.60" stroke="#ff7f0e" stroke-width="7.30"/>
<line x1="704.90" y1="103.30" x2="777.90" y2="103.30" stroke="#2ca02c" stroke-width="5.47"/>
<line x1="704.90" y1="156.90" x2="777.90" y2="156.90" stroke="#d62728" stroke-width="5.47"/>
</g>
<g stroke="#1f77b4" stroke-width="5.47" stroke-linecap="butt">
<line x1="723.15" y1="210.50" x2="759.65" y2="210.50"/>
<line x1="741.40" y1="192.25" x2="741.40" y2="228.75"/>
</g>
<circle cx="741.40" cy="210.50" r="7.30" fill="#1f77b4"/>
<text x="807.5" y="62.80">Fit</text>
<text x="807.5" y="116.50">Parabola</text>
<text x="807.5" y="170.10">Gaussian</text>
<text x="807.5" y="223.70">Data</text>
</svg></body></html>
